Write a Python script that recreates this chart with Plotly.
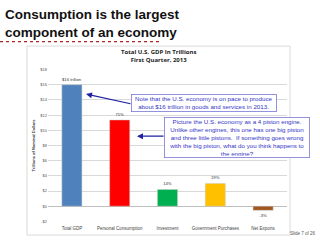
import plotly.graph_objects as go

categories = ["Total GDP", "Personal Consumption", "Investment", "Government Purchases", "Net Exports"]
values = [16.0, 11.36, 2.2, 3.0, -0.55]
bar_labels = ["$16 trillion", "71%", "14%", "19%", "-3%"]
bar_colors = ["#4F81BD", "#FF0000", "#00B050", "#FFC000", "#A0561E"]
tick_vals = [-2, 0, 2, 4, 6, 8, 10, 12, 14, 16, 18]
tick_text = ["-$2", "$0", "$2", "$4", "$6", "$8", "$10", "$12", "$14", "$16", "$18"]

W, H = 320, 240
def px(x):
    return x / W
def py(y):
    return 1 - y / H

fig = go.Figure()
fig.add_trace(go.Bar(
    x=categories, y=values, marker=dict(color=bar_colors, line=dict(color="#CCCCCC", width=0.5)),
    text=bar_labels, textposition="outside", cliponaxis=False,
    textfont=dict(size=4.2, color="#333333", family="Liberation Sans"),
))

fig.update_layout(
    width=W, height=H, margin=dict(l=0, r=0, t=0, b=0),
    paper_bgcolor="white", plot_bgcolor="white", showlegend=False,
    bargap=0.58,
    xaxis=dict(domain=[px(48), px(287)], showgrid=False, tickfont=dict(size=4.5, color="#444444", family="Liberation Sans"),
               ticks="", showline=False, ticklabelstandoff=3),
    yaxis=dict(domain=[py(223), py(68)], range=[-2, 18], tickvals=tick_vals, ticktext=tick_text,
               showgrid=True, gridcolor="#D9D9D9", gridwidth=0.6, zeroline=True, zerolinecolor="#BFBFBF", zerolinewidth=0.8,
               tickfont=dict(size=4, color="#555555", family="Liberation Sans"), ticks="",
               title=dict(text="<b>Trillions of Nominal Dollars</b>", font=dict(size=4, color="#333333", family="Liberation Sans"), standoff=4)),
    font=dict(family="Liberation Sans"),
)

# chart frame
fig.add_shape(type="rect", xref="paper", yref="paper", x0=px(27), x1=px(290), y0=py(237), y1=py(44),
              line=dict(color="#D0D0D0", width=0.8), layer="below")
# red dotted line under heading
fig.add_shape(type="line", xref="paper", yref="paper", x0=0, x1=px(160), y0=py(39.5), y1=py(39.5),
              line=dict(color="#B22222", width=1.2, dash="dot"))

# heading
fig.add_annotation(xref="paper", yref="paper", x=px(3), y=py(20.5), xanchor="left", yanchor="middle",
                   text="<b>Consumption is the largest<br>component of an economy</b>", showarrow=False, align="left",
                   font=dict(size=13.5, color="#111111", family="Liberation Sans"))

# chart title
fig.add_annotation(xref="paper", yref="paper", x=px(158), y=py(54.5), xanchor="center", yanchor="middle",
                   text="<b>Total U.S. GDP In Trillions<br>First Quarter, 2013</b>", showarrow=False,
                   font=dict(size=6, color="#222222", family="Open Sans"))

# note boxes
blue = "#3535C8"
fig.add_annotation(xref="paper", yref="paper", x=px(204), y=py(102), xanchor="center", yanchor="middle",
                   text="Note that the U.S. economy is on pace to produce<br>about $16 trillion in goods and services in 2013.",
                   showarrow=False, font=dict(size=6.2, color=blue, family="Liberation Sans"),
                   bordercolor="#7777D8", borderwidth=0.8, bgcolor="white", borderpad=1, width=142, height=14)
fig.add_annotation(xref="paper", yref="paper", x=px(237), y=py(137.5), xanchor="center", yanchor="middle",
                   text="Picture the U.S. economy as a 4 piston engine.<br>Unlike other engines, this one has one big piston<br>and three little pistons.  If something goes wrong<br>with the big piston, what do you think happens to<br>the engine?",
                   showarrow=False, font=dict(size=6.2, color=blue, family="Liberation Sans"),
                   bordercolor="#7777D8", borderwidth=0.8, bgcolor="white", borderpad=1, width=142, height=37)

# arrows
fig.add_annotation(xref="paper", yref="paper", x=px(86), y=py(93), ax=46, ay=10, text="", showarrow=True,
                   arrowhead=2, arrowsize=1, arrowwidth=1.2, arrowcolor="#2020A0")
fig.add_annotation(xref="paper", yref="paper", x=px(137), y=py(136), ax=28, ay=0, text="", showarrow=True,
                   arrowhead=2, arrowsize=1, arrowwidth=1.2, arrowcolor="#2020A0")

# slide number
fig.add_annotation(xref="paper", yref="paper", x=px(318), y=py(235), xanchor="right", yanchor="middle",
                   text="Slide 7 of 26", showarrow=False, font=dict(size=4.5, color="#555555", family="Liberation Sans"))

fig.write_html("out.html")
